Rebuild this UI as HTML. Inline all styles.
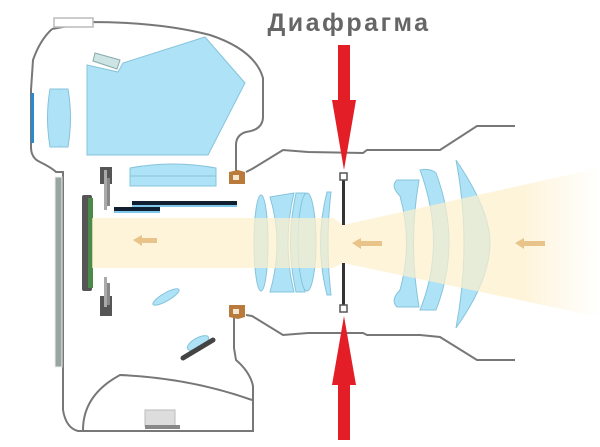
<!DOCTYPE html>
<html><head><meta charset="utf-8"><style>
html,body{margin:0;padding:0;background:#fff;width:600px;height:447px;overflow:hidden}
svg{display:block}
</style></head><body>
<svg width="600" height="447" viewBox="0 0 600 447" xmlns="http://www.w3.org/2000/svg">
<defs>
<linearGradient id="beam" x1="0" x2="1" y1="0" y2="0">
<stop offset="0" stop-color="#fdf0cc"/><stop offset="0.85" stop-color="#fdf0cc"/><stop offset="1" stop-color="#fdf0cc" stop-opacity="0"/>
</linearGradient>
</defs>
<text x="349" y="31" text-anchor="middle" font-family="Liberation Sans, sans-serif" font-weight="bold" font-size="25" letter-spacing="2.5" fill="#666">Диафрагма</text>

<g fill="none" stroke="#777" stroke-width="2">
<path d="M52,29 Q40,40 33,60 L31,90 L31,147 Q31,158 40,162 Q52,168 56,172 L63,172 L63,410 Q66,428 78,431 L253,431 L253,386 Q250,372 236,360 L234,348 L234,312"/>
<path d="M52,29 L90,22 Q160,22 210,35 Q255,50 263,78 L263,118 Q262,130 246,132 Q236,135 236,145 L236,172"/>
<path d="M83,430 Q83,395 120,375 Q190,378 252,400"/>
<path d="M246,172 L252,169 L283,150 L308,152 L363,153 L367,150 L420,150 L440,150 L477,126 L515,126"/>
<path d="M246,315 L252,316 L283,335 L308,333 L363,333 L367,335 L420,335 L440,337 L477,360 L515,360"/>
</g>
<rect x="54" y="18" width="39" height="9" fill="#fff" stroke="#bbb" stroke-width="1.5"/>
<rect x="145" y="410" width="30" height="16" fill="#ddd" stroke="#bbb"/>
<rect x="145" y="425" width="35" height="4" fill="#888"/>
<rect x="31" y="93" width="3" height="50" fill="#2a8ad0"/>
<path d="M50,89 L60,89 Q66,118 60,147 L50,147 Q45,118 50,89Z" fill="#aee2f6" stroke="#86c4dc"/>
<path d="M60,89 L68,89 Q73,118 68,147 L60,147" fill="#aee2f6" stroke="#86c4dc"/>
<rect x="55" y="177" width="7" height="190" fill="#99a5a2" stroke="#eee"/>
<polygon points="87,65 118,72 123,63 205,37 245,83 208,155 87,155" fill="#aee2f6" stroke="#86c4dc"/>
<polygon points="95,53 120,60 117,69 93,61" fill="#cde4e4" stroke="#8aa"/>
<path d="M130,168 Q173,160 216,168 L216,186 L130,186Z" fill="#aee2f6" stroke="#86c4dc"/>
<line x1="130" y1="176" x2="216" y2="176" stroke="#86c4dc"/>
<rect x="132" y="201" width="105" height="4" fill="#102030"/>
<rect x="132" y="205" width="105" height="2" fill="#7fc8ec"/>
<rect x="114" y="207" width="46" height="4" fill="#102030"/>
<rect x="114" y="211" width="46" height="2" fill="#7fc8ec"/>
<rect x="100" y="167" width="12" height="17" fill="#555"/>
<rect x="104" y="170" width="3" height="40" fill="#aaa"/>
<rect x="107" y="178" width="3" height="28" fill="#888"/>
<rect x="100" y="296" width="12" height="20" fill="#555"/>
<rect x="104" y="277" width="3" height="30" fill="#aaa"/>
<rect x="107" y="283" width="3" height="22" fill="#888"/>
<rect x="82" y="195" width="10" height="96" rx="2" fill="#555"/>
<rect x="88" y="198" width="5" height="90" fill="#4c8a4c"/>
<ellipse cx="166" cy="297" rx="15" ry="4" transform="rotate(-30 166 297)" fill="#aee2f6" stroke="#86c4dc"/>
<ellipse cx="198" cy="343" rx="12" ry="5" transform="rotate(-30 198 343)" fill="#aee2f6" stroke="#86c4dc"/>
<line x1="183" y1="358" x2="213" y2="340" stroke="#444" stroke-width="5" stroke-linecap="round"/>
<path d="M229,172 L238,170 L245,172 L245,184 L229,184Z" fill="#b97a3b"/>
<rect x="233" y="175" width="6" height="5" fill="#f5e6d0"/>
<path d="M229,305 L245,305 L245,317 L238,319 L229,317Z" fill="#b97a3b"/>
<rect x="233" y="309" width="6" height="5" fill="#f5e6d0"/>
<g fill="#aee2f6" stroke="#86c4dc" stroke-width="1">
<ellipse cx="261" cy="243" rx="7" ry="48"/>
<path d="M270,197 L294,193 Q282,243 294,292 L270,292 Q284,243 270,197Z"/>
<path d="M296,193 L305,193 Q291,243 305,292 L296,292 Q285,243 296,193Z"/>
<ellipse cx="307" cy="242" rx="9" ry="49"/>
<path d="M327,192 Q314,243 327,295 L331,295 Q325,243 331,192Z"/>
<path d="M397,180 L419,180 Q408,243 419,307 L397,307 Q390,300 400,290 Q413,243 400,196 Q390,186 397,180Z"/>
<path d="M420,170 Q430,168 436,173 Q462,243 436,310 L420,310 Q447,243 420,170Z"/>
<path d="M456,160 Q490,210 490,243 Q490,280 456,328 Q472,243 456,160Z"/>
</g>
<path d="M92,218 L333,218 L343,225 L600,168 L600,317 L343,263 L333,268 L92,268Z" fill="url(#beam)" opacity="0.72"/>
<g fill="#e8c48a">
<path d="M133,240 L142,235 L142,238 L157,238 L157,243 L142,243 L142,246Z"/>
<path d="M352,243 L361,238 L361,241 L382,241 L382,246 L361,246 L361,249Z"/>
<path d="M515,243 L524,238 L524,241 L545,241 L545,246 L524,246 L524,249Z"/>
</g>
<rect x="342" y="180" width="3" height="45" fill="#333"/>
<rect x="342" y="263" width="3" height="42" fill="#333"/>
<rect x="340" y="173" width="7" height="7" fill="#fff" stroke="#555" stroke-width="1.5"/>
<rect x="340" y="305" width="7" height="7" fill="#fff" stroke="#555" stroke-width="1.5"/>
<path d="M338,45 L350,45 L350,100 L356,100 L344,170 L332,100 L338,100Z" fill="#e41e26"/>
<path d="M338,440 L350,440 L350,385 L356,385 L344,316 L332,385 L338,385Z" fill="#e41e26"/>
</svg>
</body></html>
